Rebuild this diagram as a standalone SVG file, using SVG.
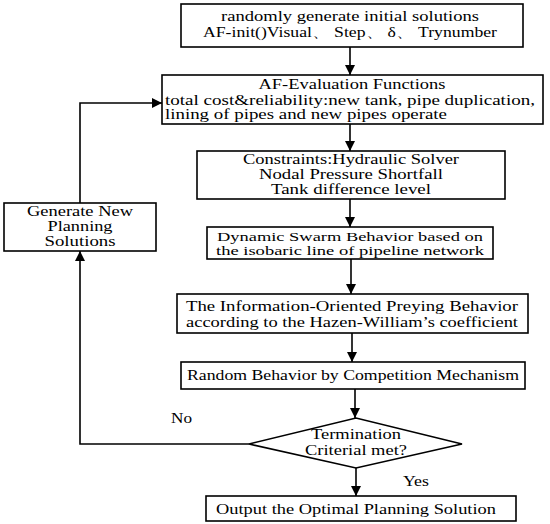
<svg xmlns="http://www.w3.org/2000/svg" width="550" height="524" viewBox="0 0 550 524">
<defs>
<style>
.box{fill:#fff;stroke:#000;stroke-width:1.6}
.t{font-family:"Liberation Serif","Times New Roman",serif;font-size:14px;fill:#000}
.s{font-size:13px}
.c{text-anchor:middle}
.ln{fill:none;stroke:#000;stroke-width:1.6}
</style>
<marker id="ah" markerUnits="userSpaceOnUse" markerWidth="10" markerHeight="10" viewBox="0 0 10 10" refX="10" refY="5" orient="auto">
<path d="M0,0 L10,5 L0,10 Z" fill="#000"/>
</marker>
</defs>
<rect width="550" height="524" fill="#fff"/>
<g id="connectors">
<line class="ln" x1="350" y1="47" x2="350" y2="75" marker-end="url(#ah)"/>
<line class="ln" x1="350" y1="124" x2="350" y2="151" marker-end="url(#ah)"/>
<line class="ln" x1="350" y1="199" x2="350" y2="227" marker-end="url(#ah)"/>
<line class="ln" x1="351" y1="259" x2="351" y2="294" marker-end="url(#ah)"/>
<line class="ln" x1="352" y1="333" x2="352" y2="362" marker-end="url(#ah)"/>
<line class="ln" x1="355" y1="389" x2="355" y2="418" marker-end="url(#ah)"/>
<line class="ln" x1="356" y1="468" x2="356" y2="496" marker-end="url(#ah)"/>
<polyline class="ln" points="249,444 80,444 80,251" marker-end="url(#ah)"/>
<polyline class="ln" points="80,203 80,103 162,103" marker-end="url(#ah)"/>
<text class="t" x="171" y="423" textLength="21" lengthAdjust="spacingAndGlyphs">No</text>
<text class="t" x="403" y="486" textLength="26" lengthAdjust="spacingAndGlyphs">Yes</text>
</g>
<g id="init">
<rect class="box" x="181" y="4" width="342" height="43"/>
<text class="t c" x="350" y="21" textLength="258" lengthAdjust="spacingAndGlyphs">randomly generate initial solutions</text>
<text class="t c" x="350" y="37" textLength="294" lengthAdjust="spacingAndGlyphs">AF-init()Visual、 Step、 δ、 Trynumber</text>
</g>
<g id="evaluation">
<rect class="box" x="162" y="75" width="381" height="49"/>
<text class="t c" x="352" y="89" textLength="187" lengthAdjust="spacingAndGlyphs">AF-Evaluation Functions</text>
<text class="t" x="165" y="105" textLength="370" lengthAdjust="spacingAndGlyphs">total cost&amp;reliability:new tank, pipe duplication,</text>
<text class="t" x="165" y="119" textLength="282" lengthAdjust="spacingAndGlyphs">lining of pipes and new pipes operate</text>
</g>
<g id="constraints">
<rect class="box" x="197" y="151" width="308" height="48"/>
<text class="t c" x="351" y="164" textLength="216" lengthAdjust="spacingAndGlyphs">Constraints:Hydraulic Solver</text>
<text class="t c" x="351" y="179" textLength="184" lengthAdjust="spacingAndGlyphs">Nodal Pressure Shortfall</text>
<text class="t c" x="351" y="194" textLength="160" lengthAdjust="spacingAndGlyphs">Tank  difference level</text>
</g>
<g id="swarm">
<rect class="box" x="207" y="227" width="286" height="32"/>
<text class="t s c" x="350" y="241" textLength="266" lengthAdjust="spacingAndGlyphs">Dynamic Swarm Behavior based on</text>
<text class="t s c" x="350" y="255" textLength="268" lengthAdjust="spacingAndGlyphs">the isobaric line of pipeline network</text>
</g>
<g id="preying">
<rect class="box" x="177" y="294" width="351" height="39"/>
<text class="t c" x="352" y="311" textLength="332" lengthAdjust="spacingAndGlyphs">The Information-Oriented Preying Behavior</text>
<text class="t c" x="352" y="327" textLength="332" lengthAdjust="spacingAndGlyphs">according to the Hazen-William’s coefficient</text>
</g>
<g id="random">
<rect class="box" x="181" y="362" width="344" height="27"/>
<text class="t c" x="353" y="380" textLength="332" lengthAdjust="spacingAndGlyphs">Random Behavior by Competition Mechanism</text>
</g>
<g id="termination">
<polygon class="box" points="249,444 356,418 462,444 356,468"/>
<text class="t c" x="356" y="439" textLength="90" lengthAdjust="spacingAndGlyphs">Termination</text>
<text class="t c" x="356" y="455" textLength="102" lengthAdjust="spacingAndGlyphs">Criterial met?</text>
</g>
<g id="output">
<rect class="box" x="206" y="496" width="310" height="25"/>
<text class="t c" x="356" y="514" textLength="280" lengthAdjust="spacingAndGlyphs">Output the Optimal Planning Solution</text>
</g>
<g id="generate">
<rect class="box" x="4" y="203" width="152" height="48"/>
<text class="t c" x="80" y="216" textLength="106" lengthAdjust="spacingAndGlyphs">Generate New</text>
<text class="t c" x="80" y="231" textLength="65" lengthAdjust="spacingAndGlyphs">Planning</text>
<text class="t c" x="80" y="246" textLength="71" lengthAdjust="spacingAndGlyphs">Solutions</text>
</g>
</svg>
